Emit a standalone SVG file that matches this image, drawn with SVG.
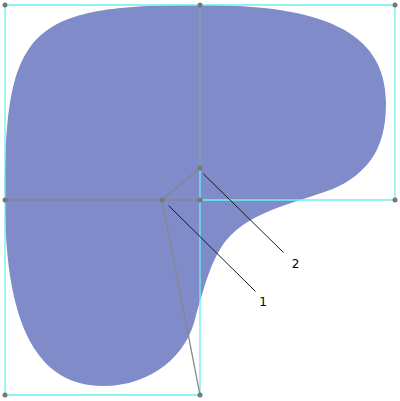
<svg xmlns="http://www.w3.org/2000/svg" width="400" height="401" viewBox="0 0 400 401">
<style>
.shape{fill:#7f8cc9;stroke:none}
.frame{fill:none;stroke:#6ef0ee;stroke-width:1.3}
.handle{fill:none;stroke:#868686;stroke-width:1.3}
.dot{fill:#777777}
.leader{stroke:#1a1a1a;stroke-width:1}
.lbl{font-family:"DejaVu Sans","Liberation Sans",sans-serif;font-size:12px;fill:#000}
</style>
<rect width="400" height="401" fill="#ffffff"/>
<g id="shape">
<path class="shape" d="M200,5 C320,5 386,30 386,103 C386,140 375,165 345,183 C315,200 260,205 230,236 C212,255 205,285 196,315 C188,355 152,386 103,386 C40,386 5,330 5,200 C5,28 28,5 200,5 Z"/>
</g>
<g id="frame">
<path class="frame" d="M5,5 H395 V200 H200 V395 H5 Z M200,5 V200"/>
</g>
<g id="connectors">
<path class="handle" d="M5,200 H200 M200,5 V168 L162,200 L200,395"/>
<line class="leader" x1="168.5" y1="205.5" x2="255.5" y2="291.5"/>
<line class="leader" x1="203" y1="173.5" x2="283.5" y2="252.5"/>
</g>
<g id="points">
<circle class="dot" cx="5" cy="5" r="2.5"/>
<circle class="dot" cx="200" cy="5" r="2.5"/>
<circle class="dot" cx="395" cy="5" r="2.5"/>
<circle class="dot" cx="5" cy="200" r="2.5"/>
<circle class="dot" cx="200" cy="200" r="2.5"/>
<circle class="dot" cx="395" cy="200" r="2.5"/>
<circle class="dot" cx="5" cy="395" r="2.5"/>
<circle class="dot" cx="200" cy="395" r="2.5"/>
<circle class="dot" cx="162" cy="200" r="2.5"/>
<circle class="dot" cx="200" cy="168" r="2.5"/>
</g>
<g id="label-1"><text class="lbl" x="263" y="306" text-anchor="middle">1</text></g>
<g id="label-2"><text class="lbl" x="295.5" y="268" text-anchor="middle">2</text></g>
</svg>
